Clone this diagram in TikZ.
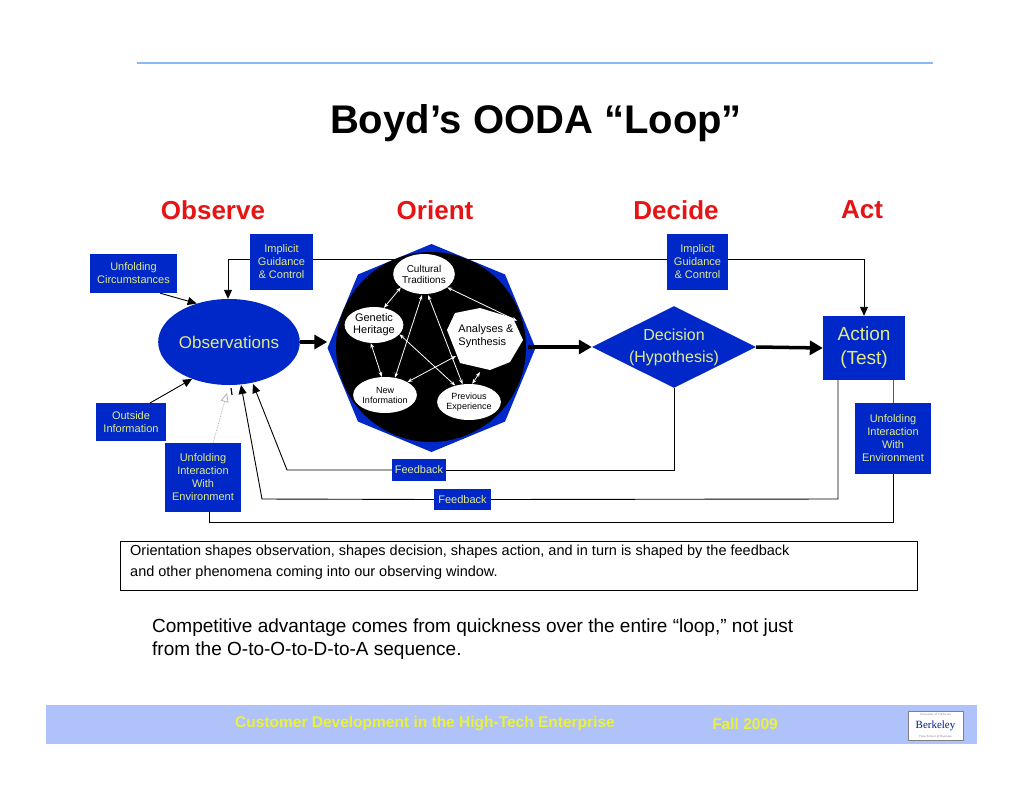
\documentclass[tikz,border=0pt]{standalone}
\usepackage{fontspec}
\setmainfont{Liberation Sans}
\usetikzlibrary{arrows.meta,shapes.geometric}
\definecolor{bb}{RGB}{0,40,200}
\definecolor{ty}{RGB}{225,235,140}
\definecolor{rr}{RGB}{230,20,20}
\definecolor{band}{RGB}{175,195,250}
\definecolor{fy}{RGB}{235,240,60}
\definecolor{tl}{RGB}{140,185,245}
\tikzset{
 bbox/.style={fill=bb,text=ty,font=\fontsize{11}{13}\selectfont,align=center,inner sep=1pt},
 hdr/.style={text=rr,font=\fontsize{26}{30}\selectfont\bfseries},
 wel/.style={ellipse,fill=white,font=\fontsize{10}{11}\selectfont,align=center,inner sep=0pt},
 thin/.style={draw,line width=0.9pt,-{Triangle[length=9pt,width=8pt]}},
 fat/.style={draw,line width=3.5pt,-{Triangle[length=13pt,width=14pt]}},
 warr/.style={white,line width=0.8pt,{Stealth[length=5pt]}-{Stealth[length=5pt]}},
 fb/.style={draw,line width=0.9pt}
}
\begin{document}
\begin{tikzpicture}[x=1pt,y=-1pt]
\useasboundingbox (0,0) rectangle (1024,792);
\fill[white] (0,0) rectangle (1024,792);
\draw[tl,line width=1.2pt] (137,63) -- (933,63);
\node[font=\fontsize{40}{46}\selectfont\bfseries] (title) at (536,123) {Boyd’s OODA “Loop”};
\node[hdr] (h1) at (213,210) {Observe};
\node[hdr] (h2) at (435,210) {Orient};
\node[hdr] (h3) at (676,210) {Decide};
\node[hdr] (h4) at (862,210) {Act};
% top line
\coordinate (tl1) at (228,259);
\coordinate (tr1) at (864,259);
\draw[fb] (tl1) -- (tr1);
% boxes
\node[bbox,minimum width=63pt,minimum height=56pt] (ig1) at (281.5,262) {Implicit\\Guidance\\\& Control};
\node[bbox,minimum width=61pt,minimum height=56pt] (ig2) at (697.5,262) {Implicit\\Guidance\\\& Control};
\node[bbox,minimum width=87pt,minimum height=39pt] (uc) at (133.5,273.5) {Unfolding\\Circumstances};
\node[ellipse,fill=bb,text=ty,minimum width=110pt,minimum height=86pt,inner sep=0pt,font=\fontsize{17}{20}\selectfont] (obs) at (229,342) {Observations};
\node[bbox,minimum width=70pt,minimum height=38pt] (oi) at (131,422) {Outside\\Information};
\node[bbox,minimum width=76pt,minimum height=69pt] (uil) at (203,477.5) {Unfolding\\Interaction\\With\\Environment};
\node[bbox,minimum width=76pt,minimum height=71pt] (uir) at (893,438.5) {Unfolding\\Interaction\\With\\Environment};
% orient
\node[regular polygon,regular polygon sides=8,shape border rotate=22.5,fill=bb,minimum size=208pt,inner sep=0pt] (ori) at (431.5,348) {};
\fill[black] (431,347) circle (95);
\node[wel,minimum width=60pt,minimum height=40pt] (ct) at (424,274) {Cultural\\Traditions};
\node[wel,minimum width=54pt,minimum height=36pt,font=\fontsize{11}{12}\selectfont] (gh) at (374,325) {Genetic\\Heritage};
\node[wel,minimum width=60pt,minimum height=36pt,font=\fontsize{9}{10}\selectfont] (ni) at (385,395) {New\\Information};
\node[wel,minimum width=60pt,minimum height=36pt,font=\fontsize{9}{10}\selectfont] (pe) at (469,402) {Previous\\Experience};
\fill[white] (447,330) -- (455,313) -- (480,308) -- (513,318) -- (523,340) -- (510,362) -- (490,370) -- (460,363) -- cycle;
\node[font=\fontsize{11}{13}\selectfont,align=left] (as) at (486,336) {Analyses \&\\Synthesis};
\draw[warr] (ct.210) -- (gh.60);
\draw[warr] (ct.-30) -- (as.north east);
\draw[warr] (gh.-100) -- (ni.100);
\draw[warr] (480,372) -- (pe.80);
\draw[warr] (422,295) -- (ni.60);
\draw[warr] (428,295) -- (pe.110);
\draw[warr] (gh.-20) -- (pe.130);
\draw[warr] (456,356) -- (ni.30);
% decision, action
\node[diamond,fill=bb,text=ty,minimum width=164pt,minimum height=80pt,aspect=2,inner sep=0pt,align=center,font=\fontsize{16}{22}\selectfont] (dec) at (674,347) {Decision\\(Hypothesis)};
\node[fill=bb,text=ty,minimum width=82pt,minimum height=64pt,align=center,inner sep=0pt,font=\fontsize{19}{24}\selectfont] (act) at (864,348) {Action\\(Test)};
\draw[fat] (obs.east) -- (ori.west|-obs.east);
\draw[fat] (528,347) -- (dec.west);
\draw[fat] (dec.east) -- (act.west);
\draw[thin] (tl1) -- (obs.north-|tl1);
\draw[thin] (tr1) -- (act.north);
\draw[thin] (uc.south east) ++(-17,0) coordinate (ucs) -- (obs.130);
\draw[thin] (150,403) coordinate (ois) -- (obs.225);
\draw[gray!60,densely dotted,line width=0.8pt,-{Triangle[length=9pt,width=8pt,open]}] (213,443) coordinate (uils) -- (227,393);
\draw[line width=1.2pt] (231,388) -- (232,395);
% feedback
\node[bbox,minimum width=54pt,minimum height=22pt] (fb1) at (419,470) {Feedback};
\node[bbox,minimum width=57pt,minimum height=21pt] (fb2) at (462.5,499.5) {Feedback};
\draw[fb] (dec.south) -- (674,470) -- (fb1.east);
\draw[thin] (fb1.west) -- (287,470) -- (253,384);
\draw[fb] (838,380) -- (838,499) -- (fb2.east);
\draw[thin] (fb2.west) -- (262,499) -- (241,385);
\draw[fb,gray!70!black] (893,380) -- (uir.north);
\draw[fb] (uir.south) -- (893,522) -- (209,522) -- (209,512);
% caption
\node[draw,line width=0.8pt,minimum width=797pt,minimum height=49pt,inner sep=0pt] (cap) at (518.5,565.5) {};
\node[anchor=north west,align=left,font=\fontsize{14.5}{21}\selectfont,inner sep=0pt] (capt) at (130,545) {Orientation shapes observation, shapes decision, shapes action, and in turn is shaped by the feedback\\and other phenomena coming into our observing window.};
\node[anchor=north west,align=left,font=\fontsize{19}{23}\selectfont,inner sep=0pt] (comp) at (152,619) {Competitive advantage comes from quickness over the entire “loop,” not just\\from the O-to-O-to-D-to-A sequence.};
% footer
\fill[band] (46,705) rectangle (977,744);
\node[text=fy,font=\fontsize{15.5}{18}\selectfont\bfseries] (ft1) at (425,724) {Customer Development in the High-Tech Enterprise};
\node[text=fy,font=\fontsize{15.5}{18}\selectfont\bfseries] (ft2) at (745,724) {Fall 2009};
\node[fill=white,draw=gray,minimum width=55pt,minimum height=29pt,inner sep=0pt] (logo) at (935.5,725.5) {};
\node[font=\fontsize{3}{3}\selectfont\sffamily,text=gray] (l1) at (935.5,715) {University of California};
\node[font=\fontsize{11}{12}\selectfont\rmfamily,text=bb!70!black] (l2) at (935.5,726) {\fontspec{Liberation Serif}Berkeley};
\node[font=\fontsize{3}{3}\selectfont\sffamily,text=gray] (l3) at (935.5,736) {Haas School of Business};
\end{tikzpicture}
\end{document}
